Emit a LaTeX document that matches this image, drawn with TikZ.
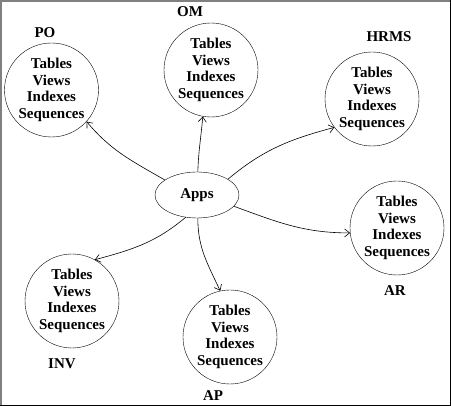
\documentclass[tikz,border=0pt]{standalone}
\usepackage{fontspec}
\setmainfont{Liberation Serif}
\usetikzlibrary{positioning,shapes.geometric,arrows.meta}

\begin{document}
\begin{tikzpicture}[x=1pt,y=1pt,
    schema/.style={circle,draw,minimum size=94pt,inner sep=0pt,align=center,
      font=\fontsize{15}{16.5}\selectfont\bfseries},
    app/.style={ellipse,draw,minimum width=84pt,minimum height=46pt,inner sep=0pt,
      font=\fontsize{15}{16.5}\selectfont\bfseries},
    tag/.style={inner sep=0pt,font=\fontsize{15}{16.5}\selectfont\bfseries},
    link/.style={-{Straight Barb[length=5pt,width=8pt]},line width=0.6pt}]
 \useasboundingbox (0,0) rectangle (451,406);
 \draw[gray,line width=2pt] (1,0) -- (1,405) -- (451,405);
 \draw[line width=1.2pt] (0,0.6) -- (450.4,0.6) -- (450.4,406);
 \node[app] (apps) at (197,211) {Apps};
 \node[schema] (po) at (51.5,316) {Tables\\Views\\Indexes\\Sequences};
 \node[schema] (om) at (211,336) {Tables\\Views\\Indexes\\Sequences};
 \node[schema] (hrms) at (372,307) {Tables\\Views\\Indexes\\Sequences};
 \node[schema] (ar) at (397,178) {Tables\\Views\\Indexes\\Sequences};
 \node[schema] (ap) at (230,69) {Tables\\Views\\Indexes\\Sequences};
 \node[schema] (inv) at (72,105) {Tables\\Views\\Indexes\\Sequences};
 \node[tag,above=5pt of po.north,xshift=-6.5pt] (po-l) {PO};
 \node[tag,above=6pt of om.north,xshift=-21pt] (om-l) {OM};
 \node[tag,above=10pt of hrms.north,xshift=17pt] (hrms-l) {HRMS};
 \node[tag,below=10pt of ar.south,xshift=-2pt] (ar-l) {AR};
 \node[tag,below=6pt of ap.south,xshift=-17pt] (ap-l) {AP};
 \node[tag,below=10pt of inv.south,xshift=-10pt] (inv-l) {INV};
 \draw[link] (apps.155) to[out=150,in=-50] (po.-42);
 \draw[link] (apps.88) to[out=88,in=-95] (om.-100);
 \draw[link] (apps.27) to[out=40,in=195] (hrms.-143);
 \draw[link] (apps.-17) to[out=-20,in=180] (ar.186);
 \draw[link] (apps.-88) to[out=-90,in=115] (ap.102);
 \draw[link] (apps.-117) to[out=-140,in=15] (inv.61);
\end{tikzpicture}
\end{document}
